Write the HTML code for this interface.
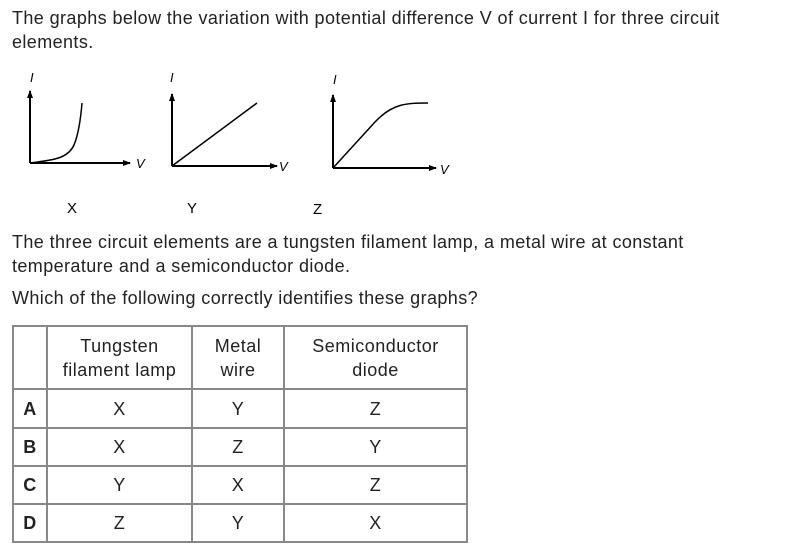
<!DOCTYPE html>
<html><head><style>
body{margin:0;width:789px;height:552px;background:#fff;font-family:"Liberation Sans",Arial,sans-serif;color:#222;position:relative;overflow:hidden}
.t{position:absolute;left:12px;font-size:18px;line-height:24px;white-space:nowrap;letter-spacing:0.4px}
table{position:absolute;left:12px;top:325px;border-collapse:collapse;font-size:18px;color:#222;letter-spacing:0.5px}
td{border:2px solid #888;text-align:center;padding:0;line-height:24px}
</style></head><body>
<div class="t" style="top:6px">The graphs below the variation with potential difference V of current I for three circuit<br>elements.</div>
<svg style="position:absolute;left:0;top:0" width="789" height="230">
<defs><marker id="a" markerWidth="8" markerHeight="8" refX="7" refY="4" orient="auto" markerUnits="userSpaceOnUse"><path d="M0,1 L8,4 L0,7z" fill="#000"/></marker></defs>
<g stroke="#000" stroke-width="2" fill="none">
<path d="M30,163 V91" marker-end="url(#a)"/><path d="M30,163 H130" marker-end="url(#a)"/>
<path d="M30,163 C55,160 68,158 74,145 C79,133 81,115 82,103" stroke-width="1.5"/>
<path d="M172,166 V94" marker-end="url(#a)"/><path d="M172,166 H277" marker-end="url(#a)"/>
<path d="M172,166 L257,103" stroke-width="1.5"/>
<path d="M333,168 V95" marker-end="url(#a)"/><path d="M333,168 H436" marker-end="url(#a)"/>
<path d="M333,168 L375,122 C392,104 405,103 428,103" stroke-width="1.5"/>
</g>
<g font-family="Liberation Sans,sans-serif" font-size="13" font-style="italic" fill="#000">
<text x="30" y="82">I</text><text x="170" y="82">I</text><text x="333" y="84">I</text>
<text x="136" y="168">V</text><text x="279" y="171">V</text><text x="440" y="174">V</text>
</g>
<g font-family="Liberation Sans,sans-serif" font-size="15" fill="#000">
<text x="67" y="213">X</text><text x="187" y="213">Y</text><text x="313" y="214">Z</text>
</g>
</svg>
<div class="t" style="top:230px">The three circuit elements are a tungsten filament lamp, a metal wire at constant<br>temperature and a semiconductor diode.</div>
<div class="t" style="top:286px">Which of the following correctly identifies these graphs?</div>
<table>
<tr style="height:63px"><td style="width:32px"></td><td style="width:143px">Tungsten<br>filament lamp</td><td style="width:90px">Metal<br>wire</td><td style="width:181px">Semiconductor<br>diode</td></tr>
<tr style="height:39px"><td><b>A</b></td><td>X</td><td>Y</td><td>Z</td></tr>
<tr style="height:38px"><td><b>B</b></td><td>X</td><td>Z</td><td>Y</td></tr>
<tr style="height:38px"><td><b>C</b></td><td>Y</td><td>X</td><td>Z</td></tr>
<tr style="height:38px"><td><b>D</b></td><td>Z</td><td>Y</td><td>X</td></tr>
</table>
</body></html>
